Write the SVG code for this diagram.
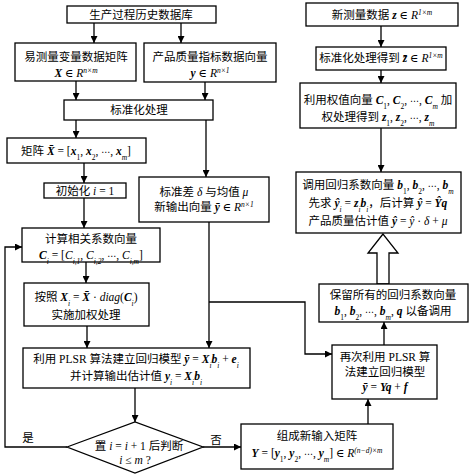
<svg xmlns="http://www.w3.org/2000/svg" width="474" height="476" viewBox="0 0 474 476">
<defs>
<style>
.b{fill:#fff;stroke:#000;stroke-width:1.3}
.c{fill:none;stroke:#000;stroke-width:1.3}
.t{font-family:"Liberation Serif","DejaVu Serif","Noto Sans CJK SC",serif;font-size:11.5px;text-anchor:middle;fill:#000}
.v{font-style:italic;font-weight:bold}
.i{font-style:italic}
.s{font-size:7.5px}
.d{font-family:"DejaVu Sans",sans-serif;font-size:9px}
</style>
<marker id="a" viewBox="0 0 10 10" refX="10" refY="5" markerWidth="7" markerHeight="7" markerUnits="userSpaceOnUse" orient="auto">
<path d="M0,0 L10,5 L0,10 Z" fill="#000"/>
</marker>
</defs>
<rect width="474" height="476" fill="#fff"/>

<g id="connectors">
<path class="c" d="M94,23 V43" marker-end="url(#a)"/>
<path class="c" d="M181,23 V43" marker-end="url(#a)"/>
<path class="c" d="M76,81 V100" marker-end="url(#a)"/>
<path class="c" d="M205,82 V100" marker-end="url(#a)"/>
<path class="c" d="M76,120 V138" marker-end="url(#a)"/>
<path class="c" d="M206,120 V177" marker-end="url(#a)"/>
<path class="c" d="M84,163 V183" marker-end="url(#a)"/>
<path class="c" d="M84,198 V228" marker-end="url(#a)"/>
<path class="c" d="M86,262 V283" marker-end="url(#a)"/>
<path class="c" d="M87,326 V348" marker-end="url(#a)"/>
<path class="c" d="M209,222 V348" marker-end="url(#a)"/>
<path class="c" d="M209,302 H305 V354 H332" marker-end="url(#a)"/>
<path class="c" d="M135,388 V422" marker-end="url(#a)"/>
<path class="c" d="M67,447 H5 V247 H22" marker-end="url(#a)"/>
<path class="c" d="M203,447 H241" marker-end="url(#a)"/>
<path class="c" d="M368,424 V399" marker-end="url(#a)"/>
<path class="c" d="M384,345 V322" marker-end="url(#a)"/>
<path class="c" d="M381,26 V47" marker-end="url(#a)"/>
<path class="c" d="M381,70 V83" marker-end="url(#a)"/>
<path class="c" d="M381,128 V172" marker-end="url(#a)"/>
<polygon class="b" points="383,234 368,253 377,253 377,284 389,284 389,253 398,253"/>
</g>

<g id="n1"><rect class="b" x="67" y="6" width="149" height="17"/>
<text class="t" x="141" y="19">生产过程历史数据库</text></g>

<g id="n2"><rect class="b" x="15" y="43" width="121" height="38"/>
<text class="t" x="76" y="61">易测量变量数据矩阵</text>
<text class="t" x="76" y="77"><tspan class="v">X</tspan> ∈ <tspan class="i">R</tspan><tspan class="s i" baseline-shift="super">n×m</tspan></text></g>

<g id="n3"><rect class="b" x="144" y="43" width="132" height="39"/>
<text class="t" x="210" y="61">产品质量指标数据向量</text>
<text class="t" x="210" y="77"><tspan class="v">y</tspan> ∈ <tspan class="i">R</tspan><tspan class="s i" baseline-shift="super">n×1</tspan></text></g>

<g id="n4"><rect class="b" x="64" y="100" width="149" height="20"/>
<text class="t" x="139" y="114">标准化处理</text></g>

<g id="n5"><rect class="b" x="7" y="138" width="139" height="25"/>
<text class="t" x="76" y="155">矩阵 <tspan class="v">X̄</tspan> = [<tspan class="v">x</tspan><tspan class="s" baseline-shift="sub">1</tspan>, <tspan class="v">x</tspan><tspan class="s" baseline-shift="sub">2</tspan>, <tspan class="d">⋯</tspan>, <tspan class="v">x</tspan><tspan class="s i" baseline-shift="sub">m</tspan>]</text></g>

<g id="n6"><rect class="b" x="44" y="183" width="82" height="15"/>
<text class="t" x="85" y="195">初始化 <tspan class="i">i</tspan> = 1</text></g>

<g id="n7"><rect class="b" x="22" y="228" width="138" height="34"/>
<text class="t" x="91" y="243">计算相关系数向量</text>
<text class="t" x="91" y="259"><tspan class="v">C</tspan><tspan class="s i" baseline-shift="sub">i</tspan> = [<tspan class="i">C</tspan><tspan class="s i" baseline-shift="sub">i,1</tspan>, <tspan class="i">C</tspan><tspan class="s i" baseline-shift="sub">i,2</tspan>, <tspan class="d">⋯</tspan>, <tspan class="i">C</tspan><tspan class="s i" baseline-shift="sub">i,m</tspan>]</text></g>

<g id="n8"><rect class="b" x="24" y="283" width="125" height="43"/>
<text class="t" x="86" y="301">按照 <tspan class="v">X</tspan><tspan class="s i" baseline-shift="sub">i</tspan> = <tspan class="v">X̄</tspan> · <tspan class="i">diag</tspan>(<tspan class="v">C</tspan><tspan class="s i" baseline-shift="sub">i</tspan>)</text>
<text class="t" x="86" y="319">实施加权处理</text></g>

<g id="n9"><rect class="b" x="23" y="348" width="227" height="40"/>
<text class="t" x="136" y="363">利用 PLSR 算法建立回归模型 <tspan class="v">ȳ</tspan> = <tspan class="v">X</tspan><tspan class="s i" baseline-shift="sub">i</tspan><tspan class="v">b</tspan><tspan class="s i" baseline-shift="sub">i</tspan> + <tspan class="v">e</tspan><tspan class="s i" baseline-shift="sub">i</tspan></text>
<text class="t" x="136" y="380">并计算输出估计值 <tspan class="v">y</tspan><tspan class="s i" baseline-shift="sub">i</tspan> = <tspan class="v">X</tspan><tspan class="s i" baseline-shift="sub">i</tspan><tspan class="v">b</tspan><tspan class="s i" baseline-shift="sub">i</tspan></text></g>

<g id="n10"><polygon class="b" points="67,447 135,422 203,447 135,473"/>
<text class="t" x="139" y="450">置 <tspan class="i">i</tspan> = <tspan class="i">i</tspan> + 1 后判断</text>
<text class="t" x="135" y="464"><tspan class="i">i</tspan> ≤ <tspan class="i">m</tspan> ?</text></g>

<g id="lbl">
<text class="t" x="28" y="442">是</text>
<text class="t" x="216" y="444">否</text></g>

<g id="n11"><rect class="b" x="139" y="177" width="130" height="45"/>
<text class="t" x="204" y="196">标准差 <tspan class="i">δ</tspan> 与均值 <tspan class="i">μ</tspan></text>
<text class="t" x="204" y="211">新输出向量 <tspan class="v">ȳ</tspan> ∈ <tspan class="i">R</tspan><tspan class="s i" baseline-shift="super">n×1</tspan></text></g>

<g id="n12"><rect class="b" x="306" y="3" width="152" height="23"/>
<text class="t" x="382" y="19">新测量数据 <tspan class="v">z</tspan> ∈ <tspan class="i">R</tspan><tspan class="s i" baseline-shift="super">1×m</tspan></text></g>

<g id="n13"><rect class="b" x="316" y="47" width="130" height="23"/>
<text class="t" x="381" y="62">标准化处理得到 <tspan class="v">z̄</tspan> ∈ <tspan class="i">R</tspan><tspan class="s i" baseline-shift="super">1×m</tspan></text></g>

<g id="n14"><rect class="b" x="300" y="83" width="156" height="45"/>
<text class="t" x="378" y="104">利用权值向量 <tspan class="v">C</tspan><tspan class="s" baseline-shift="sub">1</tspan>, <tspan class="v">C</tspan><tspan class="s" baseline-shift="sub">2</tspan>, <tspan class="d">⋯</tspan>, <tspan class="v">C</tspan><tspan class="s i" baseline-shift="sub">m</tspan> 加</text>
<text class="t" x="378" y="121">权处理得到 <tspan class="v">z</tspan><tspan class="s" baseline-shift="sub">1</tspan>, <tspan class="v">z</tspan><tspan class="s" baseline-shift="sub">2</tspan>, <tspan class="d">⋯</tspan>, <tspan class="v">z</tspan><tspan class="s i" baseline-shift="sub">m</tspan></text></g>

<g id="n15"><rect class="b" x="296" y="172" width="165" height="61"/>
<text class="t" x="378" y="189">调用回归系数向量 <tspan class="v">b</tspan><tspan class="s" baseline-shift="sub">1</tspan>, <tspan class="v">b</tspan><tspan class="s" baseline-shift="sub">2</tspan>, <tspan class="d">⋯</tspan>, <tspan class="v">b</tspan><tspan class="s i" baseline-shift="sub">m</tspan></text>
<text class="t" x="378" y="207">先求 <tspan class="v">ŷ</tspan><tspan class="s i" baseline-shift="sub">i</tspan> = <tspan class="v">z</tspan><tspan class="s i" baseline-shift="sub">i</tspan><tspan class="v">b</tspan><tspan class="s i" baseline-shift="sub">i</tspan>，后计算 <tspan class="v">ŷ</tspan> = <tspan class="v">Ŷq</tspan></text>
<text class="t" x="378" y="225">产品质量估计值 <tspan class="v">ŷ</tspan> = <tspan class="i">ŷ</tspan> · <tspan class="i">δ</tspan> + <tspan class="i">μ</tspan></text></g>

<g id="n16"><rect class="b" x="319" y="284" width="149" height="38"/>
<text class="t" x="393" y="299">保留所有的回归系数向量</text>
<text class="t" x="393" y="315"><tspan class="v">b</tspan><tspan class="s" baseline-shift="sub">1</tspan>, <tspan class="v">b</tspan><tspan class="s" baseline-shift="sub">2</tspan>, <tspan class="d">⋯</tspan>, <tspan class="v">b</tspan><tspan class="s i" baseline-shift="sub">m</tspan>, <tspan class="v">q</tspan> 以备调用</text></g>

<g id="n17"><rect class="b" x="332" y="345" width="105" height="54"/>
<text class="t" x="385" y="361">再次利用 PLSR 算</text>
<text class="t" x="385" y="376">法建立回归模型</text>
<text class="t" x="385" y="391"><tspan class="v">ȳ</tspan> = <tspan class="v">Yq</tspan> + <tspan class="v">f</tspan></text></g>

<g id="n18"><rect class="b" x="241" y="424" width="152" height="45"/>
<text class="t" x="317" y="440">组成新输入矩阵</text>
<text class="t" x="317" y="457"><tspan class="v">Y</tspan> = [<tspan class="v">y</tspan><tspan class="s" baseline-shift="sub">1</tspan>, <tspan class="v">y</tspan><tspan class="s" baseline-shift="sub">2</tspan>, <tspan class="d">⋯</tspan>, <tspan class="v">y</tspan><tspan class="s i" baseline-shift="sub">m</tspan>] ∈ <tspan class="i">R</tspan><tspan class="s i" baseline-shift="super">(n−d)×m</tspan></text></g>
</svg>
